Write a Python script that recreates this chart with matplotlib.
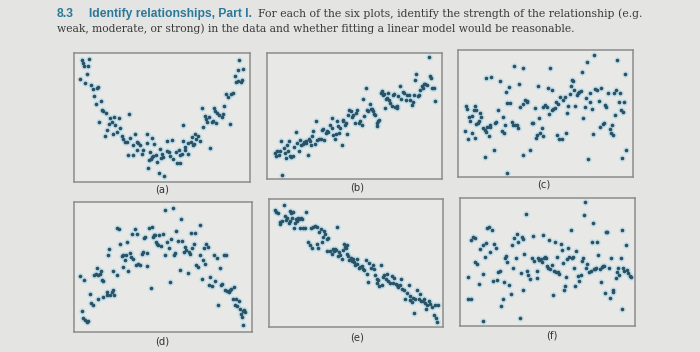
import matplotlib
matplotlib.use("Agg")
import matplotlib.pyplot as plt

# points, in picture units (x right, y down) inside each panel box
a_pts = [(35,47),(58,43),(40,55),(42,65),(55,65),(50,88),(30,103),(46,115),(62,122),(68,133),(80,130),(84,128),
         (72,152),(92,168),(78,177),(96,195),(100,198),(108,205),(88,230),(120,220),(132,215),(147,218),(125,232),
         (135,240),(118,238),(150,250),(140,262),(130,268),(112,255),(106,274),(156,272),(160,282),(165,290),
         (170,292),(180,280),(178,208),(195,268),(188,300),(200,290),(205,295),(210,300),(218,315),(175,330),
         (190,328),(200,315),(215,325),(232,268),(245,278),(230,295),(253,298),(240,320),(242,340),(238,345),
         (245,335),(250,332),(258,330),(234,368),(262,350),(270,312),(275,325),(272,338),(280,335),(292,318),
         (298,322),(290,288),(305,286),(300,332),(308,340),(318,320),(320,352),(328,315),(330,328),(335,325),
         (338,240),(345,316),(355,326),(355,295),(340,288),(362,290),(345,305),(365,275),(370,300),(375,268),
         (372,296),(378,282),(385,272),(390,288),(395,190),(400,245),(405,212),(408,222),(412,230),(418,215),
         (425,232),(428,228),(432,190),(435,198),(440,205),(420,308),(438,235),(448,210),(455,215),(460,208),
         (462,182),(468,148),(475,155),(482,148),(488,145),(480,238),(495,95),(498,112),(505,108),(512,112),
         (515,105),(508,46),(505,75),(520,73),(268,383),(283,392),(330,352)]
b_pts = [(45,325),(52,320),(48,335),(60,318),(65,290),(58,332),(72,310),(75,325),(80,340),(85,318),(90,335),
         (95,338),(100,335),(82,302),(88,290),(102,306),(108,262),(112,295),(118,318),(120,285),(125,300),
         (130,298),(132,292),(138,295),(140,288),(145,332),(148,282),(152,290),(155,300),(158,275),(160,258),
         (165,298),(168,228),(172,285),(178,282),(182,282),(185,255),(190,252),(192,285),(198,265),(200,258),
         (205,262),(210,240),(215,220),(215,250),(220,270),(225,282),(228,268),(232,228),(235,245),(238,265),
         (240,250),(245,300),(248,228),(250,225),(255,240),(258,235),(262,268),(265,210),(268,195),(272,200),
         (275,218),(280,212),(285,235),(288,205),(292,195),(298,235),(300,230),(305,242),(308,162),(312,215),
         (318,130),(320,195),(325,200),(330,178),(332,192),(335,192),(340,198),(342,208),(345,210),(350,245),
         (352,235),(355,228),(358,225),(362,145),(365,138),(368,150),(372,148),(375,190),(378,162),(382,160),
         (385,145),(388,165),(390,175),(395,185),(398,152),(402,148),(405,188),(410,190),(412,185),(415,155),
         (420,125),(422,162),(428,142),(432,145),(438,165),(440,150),(445,150),(450,165),(455,180),(458,172),
         (462,150),(465,105),(468,88),(472,155),(475,152),(480,135),(485,125),(488,130),(490,118),(495,118),
         (500,122),(505,37),(508,95),(512,100),(515,130),(520,130),(523,168),(68,390)]
c_pts = [(48,182),(52,193),(58,215),(62,228),(68,212),(72,195),(75,183),(78,195),(80,235),(85,232),(88,228),
         (90,205),(95,215),(45,258),(55,280),(68,262),(75,277),(100,248),(105,255),(110,260),(112,245),(118,272),
         (120,240),(122,245),(135,232),(138,230),(145,195),(150,108),(155,258),(160,215),(162,262),(165,240),
         (168,140),(172,175),(178,125),(180,175),(185,230),(188,240),(195,238),(200,240),(205,248),(208,118),
         (108,100),(125,95),(192,63),(220,70),(210,185),(218,178),(225,165),(230,168),(232,172),(245,232),
         (248,232),(255,190),(258,278),(262,270),(268,220),(265,123),(270,262),(275,248),(278,272),(280,185),
         (285,180),(290,185),(295,130),(298,208),(305,135),(300,68),(305,195),(310,192),(315,188),(318,172),
         (322,268),(325,178),(328,280),(330,155),(335,282),(340,165),(345,155),(348,262),(350,205),(355,182),
         (360,148),(362,122),(365,105),(370,108),(372,135),(375,182),(380,150),(385,145),(388,140),(392,138),
         (395,82),(400,220),(405,185),(410,52),(408,160),(412,340),(418,145),(420,172),(425,192),(428,265),
         (430,30),(435,132),(440,135),(445,168),(450,245),(452,128),(458,235),(462,232),(465,180),(468,185),
         (472,145),(478,250),(482,262),(485,238),(488,270),(490,145),(495,210),(498,135),(500,45),(505,170),
         (508,145),(512,195),(515,338),(518,200),(522,170),(525,88),(528,315),(172,382),(105,335),(132,313),
         (218,328),(240,315)]
d_pts = [(30,242),(42,255),(35,348),(38,368),(45,375),(50,380),(55,378),(60,295),(62,322),(68,328),(72,238),
         (78,235),(80,218),(85,240),(90,235),(92,228),(95,255),(100,258),(85,312),(100,305),(110,298),(115,178),
         (118,160),(112,290),(120,298),(125,290),(128,285),(132,298),(128,228),(140,98),(148,102),(142,238),
         (150,145),(155,182),(158,215),(160,178),(165,195),(168,178),(172,140),(175,228),(180,172),(182,185),
         (185,115),(190,190),(195,100),(198,208),(200,115),(205,205),(210,210),(215,175),(218,170),(222,128),
         (225,125),(230,172),(232,212),(238,98),(242,278),(245,96),(250,125),(252,118),(255,120),(258,140),
         (262,145),(265,150),(268,118),(272,152),(278,115),(285,45),(285,180),(290,140),(295,158),(300,260),
         (302,130),(308,37),(310,178),(315,172),(318,108),(322,138),(328,225),(332,72),(335,138),(340,170),
         (345,155),(348,165),(352,232),(355,170),(358,175),(362,112),(365,158),(370,145),(375,112),(378,210),
         (382,215),(388,178),(390,88),(395,250),(398,195),(402,158),(405,205),(408,145),(412,155),(415,268),
         (420,245),(425,272),(430,178),(435,258),(440,188),(442,328),(448,218),(452,268),(455,265),(460,180),
         (465,285),(468,180),(470,288),(475,290),(478,285),(482,282),(488,312),(490,275),(495,328),(498,310),
         (500,332),(505,318),(508,340),(512,355),(515,365),(518,348),(522,345),(525,350),(518,388)]
e_pts = [(45,45),(50,50),(55,55),(60,88),(62,82),(68,78),(72,30),(75,62),(80,75),(82,70),(88,85),(90,78),
         (92,48),(95,55),(98,68),(100,52),(102,98),(105,85),(108,72),(112,78),(115,68),(118,72),(122,100),
         (125,70),(128,72),(130,100),(135,100),(138,52),(145,142),(150,150),(152,100),(155,158),(160,95),
         (165,92),(170,95),(172,148),(175,158),(178,110),(182,102),(185,140),(188,125),(192,108),(195,118),
         (200,168),(200,132),(205,130),(210,168),(215,178),(218,162),(222,168),(225,162),(228,165),(232,95),
         (235,182),(238,172),(240,180),(245,192),(250,165),(252,148),(255,155),(258,160),(262,150),(262,178),
         (265,182),(268,195),(272,188),(275,198),(280,192),(282,200),(285,210),(290,190),(292,205),(298,218),
         (300,215),(305,212),(308,220),(312,225),(318,195),(322,235),(325,260),(328,202),(332,218),(338,210),
         (342,222),(345,238),(350,250),(352,262),(355,255),(358,272),(362,208),(365,268),(368,245),(372,240),
         (378,250),(382,235),(385,258),(390,262),(395,242),(398,262),(402,248),(408,265),(410,268),(412,275),
         (418,268),(422,250),(425,282),(430,285),(435,312),(440,292),(445,270),(448,302),(450,315),(455,320),
         (458,308),(462,352),(465,312),(470,285),(475,310),(478,295),(482,318),(488,318),(490,310),(495,322),
         (498,342),(500,328),(505,318),(510,325),(515,335),(520,358),(525,328),(528,368),(532,328),(530,380)]
f_pts = [(55,245),(55,310),(62,310),(62,135),(68,125),(75,130),(75,200),(80,208),(88,268),(90,162),(98,238),
         (98,378),(100,150),(105,185),(108,145),(112,100),(118,98),(120,172),(125,105),(128,258),(132,148),
         (138,158),(140,255),(145,230),(150,228),(152,332),(158,312),(162,260),(165,190),(168,182),(172,200),
         (178,270),(182,298),(185,150),(190,220),(192,130),(198,190),(200,118),(205,140),(210,368),(212,235),
         (215,125),(218,132),(220,285),(222,178),(228,58),(232,228),(235,240),(240,252),(245,188),(250,122),
         (252,198),(260,228),(262,250),(265,188),(268,195),(272,192),(275,200),(278,120),(282,188),(285,185),
         (288,188),(292,212),(295,218),(298,135),(300,222),(305,210),(310,300),(312,228),(315,140),(318,232),
         (322,185),(325,232),(328,238),(332,148),(335,165),(340,205),(342,285),(345,272),(348,245),(352,192),
         (355,158),(358,185),(362,105),(365,188),(368,185),(372,218),(375,272),(378,168),(385,242),(388,258),
         (392,240),(395,198),(398,188),(402,62),(405,22),(408,218),(412,208),(418,232),(422,228),(425,140),
         (430,85),(432,222),(435,222),(438,218),(440,140),(445,180),(450,222),(452,262),(455,215),(458,212),
         (462,212),(465,295),(468,112),(472,110),(478,218),(480,308),(482,188),(488,285),(490,292),(498,250),
         (500,230),(505,218),(508,240),(512,188),(515,340),(515,105),(518,220),(522,228),(528,150),(532,225),
         (535,235),(540,242),(542,245)]

panels = [
    # label, points, box (x0, x1, y0, y1) in picture units, axes rect, label pos
    ("(a)", a_pts, (12, 540, 25, 410), [0.1057, 0.4830, 0.2514, 0.3665], (162, 190)),
    ("(b)", b_pts, (22, 545, 25, 403), [0.3814, 0.4915, 0.2500, 0.3580], (357, 188)),
    ("(c)", c_pts, (25, 548, 15, 395), [0.6543, 0.4972, 0.2500, 0.3608], (544, 185)),
    ("(d)", d_pts, (12, 545, 20, 410), [0.1057, 0.0568, 0.2543, 0.3693], (162, 341)),
    ("(e)", e_pts, (28, 548, 12, 395), [0.3843, 0.0710, 0.2486, 0.3636], (357, 337)),
    ("(f)", f_pts, (30, 555, 10, 392), [0.6571, 0.0739, 0.2500, 0.3636], (552, 335)),
]

head_num = "8.3"
head_bold = "Identify relationships, Part I."
head_line1 = "For each of the six plots, identify the strength of the relationship (e.g."
head_line2 = "weak, moderate, or strong) in the data and whether fitting a linear model would be reasonable."

bg = "#e4e4e2"
fig = plt.figure(figsize=(7, 3.52), dpi=100, facecolor=bg)

for label, pts, box, rect, lpos in panels:
    ax = fig.add_axes(rect)
    ax.set_facecolor("#e8e8e6")
    xs = [p[0] for p in pts]
    ys = [p[1] for p in pts]
    ax.scatter(xs, ys, s=24, color="#b9dcea", alpha=0.7, linewidths=0)
    ax.scatter(xs, ys, s=7, color="#2a5264", linewidths=0)
    ax.set_xlim(box[0], box[1])
    ax.set_ylim(box[3], box[2])
    ax.set_xticks([])
    ax.set_yticks([])
    for sp in ax.spines.values():
        sp.set_color("#8c8c8c")
        sp.set_linewidth(1.1)
    fig.text(lpos[0] / 700, 1 - lpos[1] / 352, label, ha="center", va="center",
             fontsize=7.2, color="#333333", family="DejaVu Sans")


def fit_text(x0, x1, y, s, **kw):
    # place text starting at x0 and scale it so that it ends near x1 (pixels)
    t = fig.text(x0 / 700, 1 - y / 352, s, va="center", ha="left", fontsize=8, **kw)
    fig.canvas.draw()
    w = t.get_window_extent(renderer=fig.canvas.get_renderer()).width
    t.set_fontsize(8 * (x1 - x0) / w)
    return t


teal = "#2b7898"
text_col = "#3a3a3a"
fit_text(57, 74, 14, head_num, color=teal, fontweight="bold", family="Liberation Sans")
fit_text(89, 253, 14, head_bold, color=teal, fontweight="bold", family="Liberation Sans")
fit_text(258, 643, 14, head_line1, color=text_col, family="DejaVu Serif")
fit_text(57, 580, 29, head_line2, color=text_col, family="DejaVu Serif")

fig.savefig("out.png", dpi=100, facecolor=bg)
